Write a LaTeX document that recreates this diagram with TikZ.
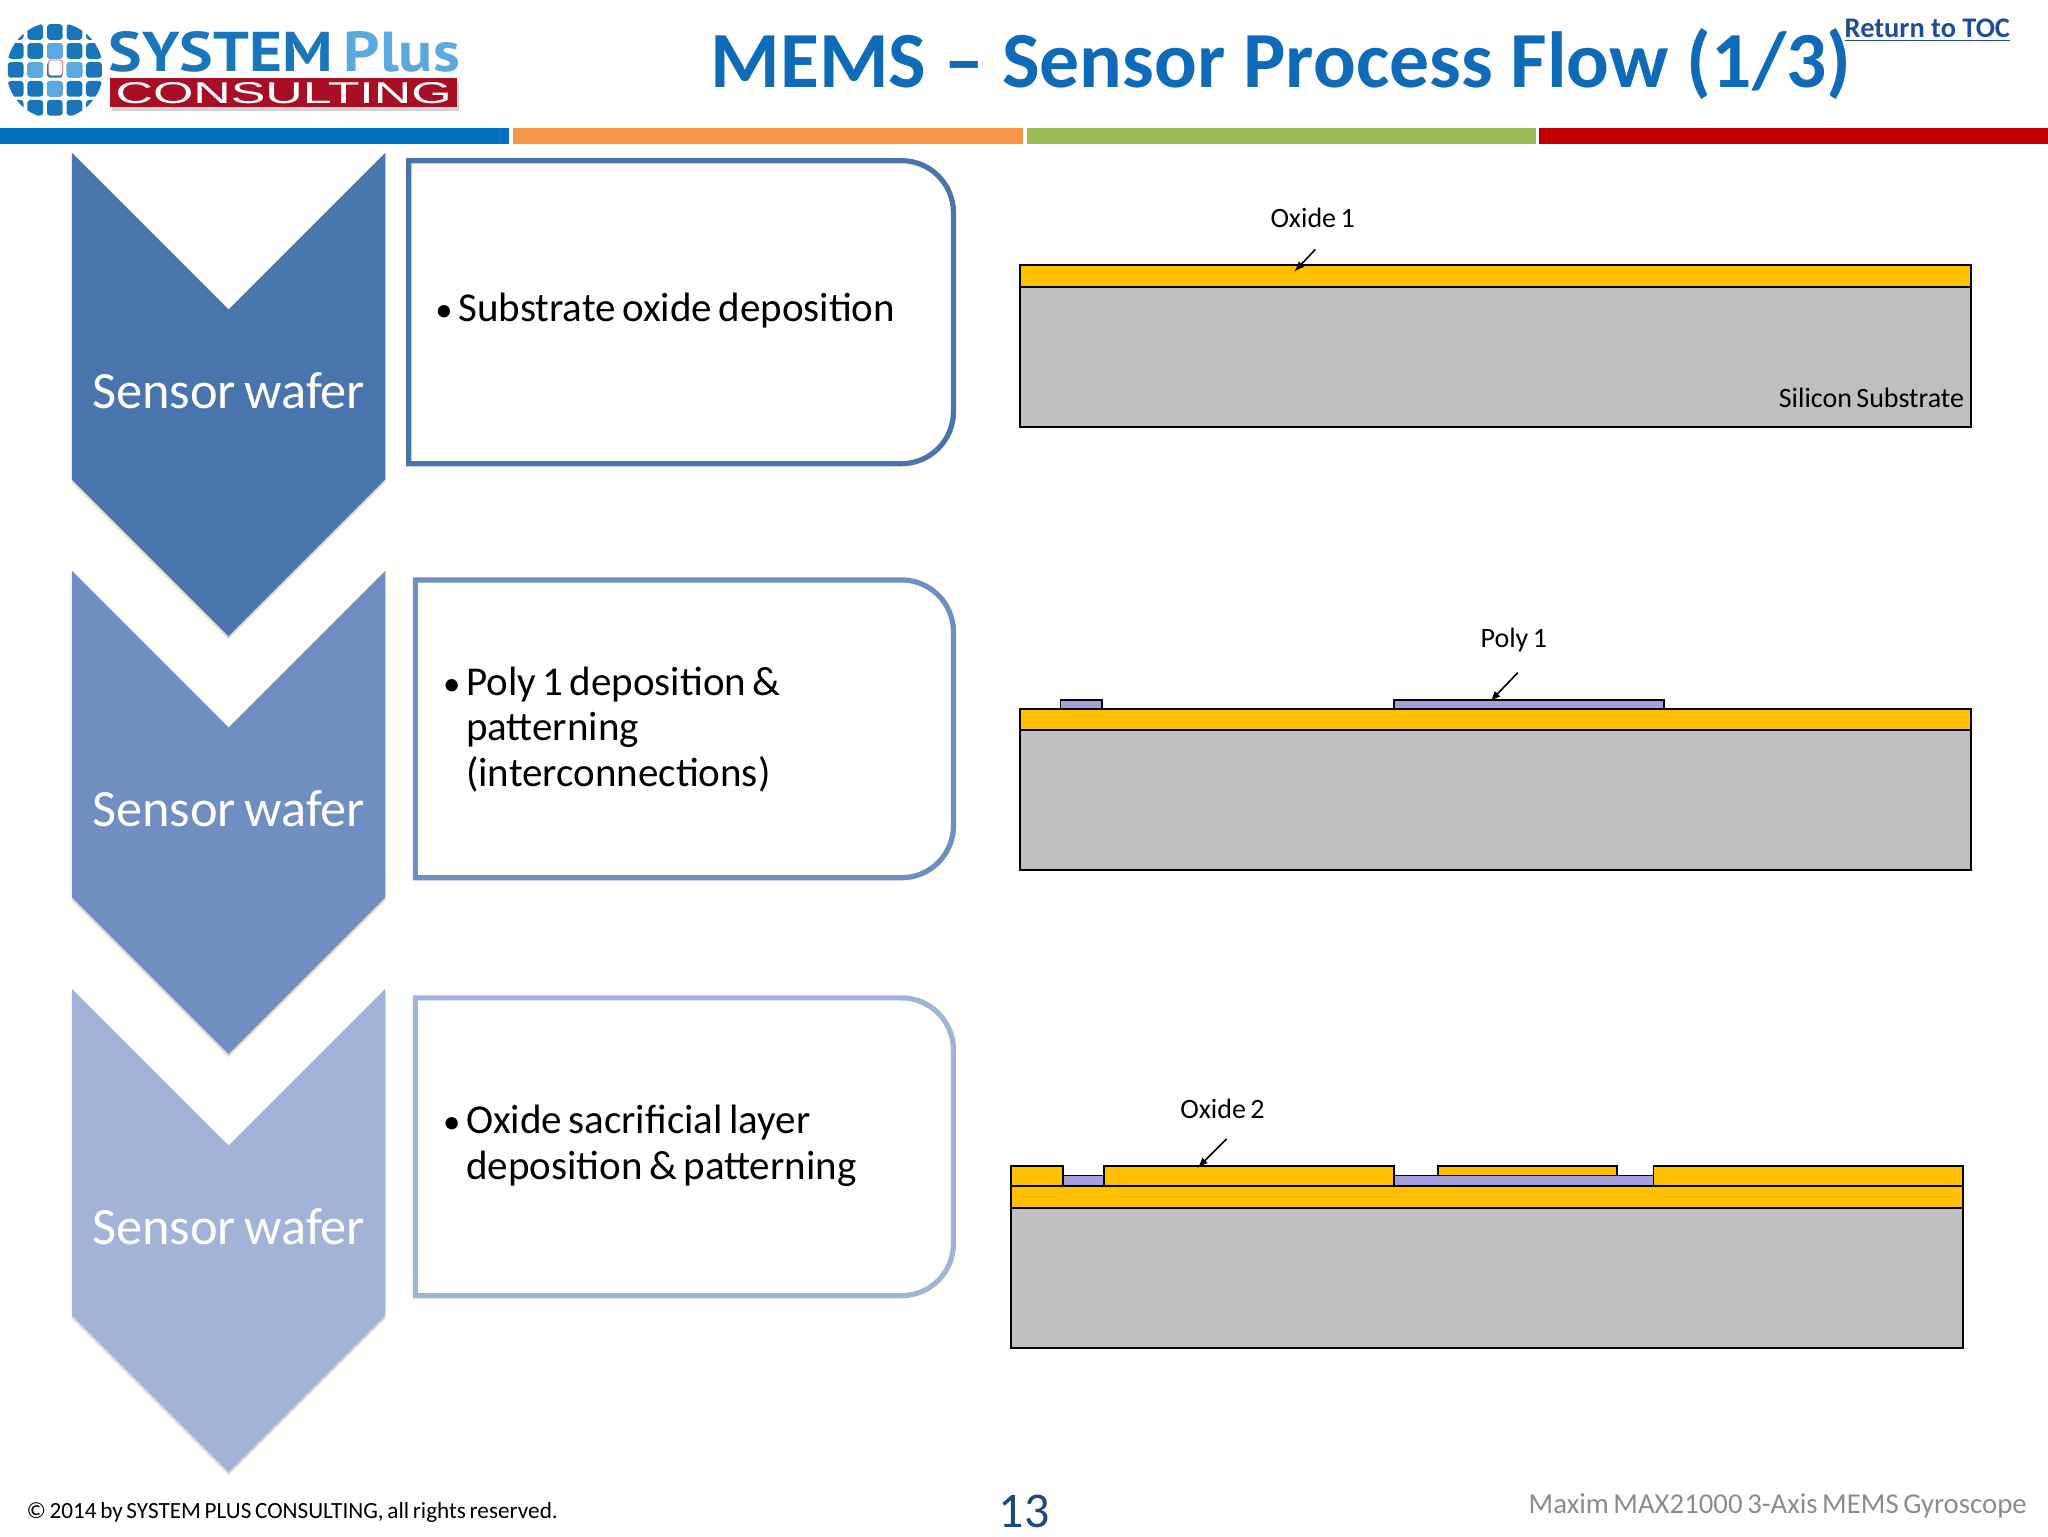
\documentclass[tikz,border=0pt]{standalone}
\usepackage{fontspec}
\setmainfont[WordSpace=0.7]{Carlito}
\newfontfamily\titlefont{Carlito}
\newfontfamily\logosans{PT Sans}
\newfontfamily\logowide{Liberation Sans}
\usetikzlibrary{shadows}
\definecolor{barblue}{HTML}{0070C0}
\definecolor{barorange}{HTML}{F79646}
\definecolor{bargreen}{HTML}{9BBB59}
\definecolor{barred}{HTML}{C00000}
\definecolor{stepA}{HTML}{4A74AC}
\definecolor{stepB}{HTML}{6E8FC0}
\definecolor{stepC}{HTML}{A1B3D7}
\definecolor{oxide}{HTML}{FFC000}
\definecolor{poly}{HTML}{A5A0DC}
\definecolor{silicon}{HTML}{BFBEC0}
\definecolor{titleblue}{HTML}{0F6BB7}
\definecolor{tocblue}{HTML}{1F4E96}
\definecolor{numblue}{HTML}{1F497D}
\definecolor{logodark}{HTML}{1B75BB}
\definecolor{logolight}{HTML}{5BA9DE}
\definecolor{logored}{HTML}{A80F25}
\newcommand{\stepitem}[1]{\hbox to 11.5pt{\scalebox{0.85}{\textbullet}\hss}\parbox[t]{230pt}{\raggedright #1}}
\tikzset{
	stepbox/.style={line width=2.6pt, fill=white},
	chevron/.style={drop shadow={shadow xshift=0pt, shadow yshift=-1.5pt, opacity=0.3}},
	wafer/.style={text=white, font=\fontsize{26.2}{30}\selectfont, inner sep=0pt},
	steptext/.style={anchor=north west, inner sep=0pt, font=\fontsize{20.5}{22.9}\selectfont},
	layerox/.style={draw=black, line width=0.9pt, fill=oxide},
	layerpoly/.style={draw=black, line width=0.9pt, fill=poly},
	layersi/.style={draw=black, line width=0.9pt, fill=silicon},
	small/.style={inner sep=0pt, font=\fontsize{14}{16}\selectfont},
	pointer/.style={-latex, line width=0.8pt}
}
\begin{document}
\begin{tikzpicture}[x=0.653061pt, y=-0.653061pt]
			\useasboundingbox (0,0) rectangle (1568,1176);
			
			\begin{scope}
				\clip (42,54) circle[radius=37];
				\foreach \i in {-2,...,2}
				\foreach \j in {-2,...,2}
				\fill[logodark, rounded corners=1.5pt] (36+15*\i,47.5+14.5*\j) rectangle ++(12,12);
				\foreach \i/\j in {0/-1,0/1,-1/0,1/0}
				\fill[logolight, rounded corners=1.5pt] (36+15*\i,47.5+14.5*\j) rectangle ++(12,12);
			\end{scope}
			\draw[fill=white, draw=logored!60, rounded corners=1.5pt] (37,46) rectangle (48,58);
			\node[inner sep=0pt, anchor=west, text=logodark, font=\logosans\bfseries] (logotop) at (83,40) {\resizebox{112pt}{20pt}{SYSTEM}};
			\node[inner sep=0pt, anchor=west, text=logolight, font=\logosans\bfseries] (logoplus) at (263,40) {\resizebox{58pt}{20pt}{Plus}};
			\node[fill=logored, minimum width=173.5pt, minimum height=14.4pt, inner sep=0pt, anchor=west, drop shadow={shadow xshift=1pt, shadow yshift=-2pt, opacity=0.35}] (logobox) at (84,71) {};
			\node[text=white, inner sep=0pt, font=\logowide] (logobottom) at (logobox.center) {\resizebox{168pt}{10.5pt}{CONSULTING}};
			
			\node[inner sep=0pt, anchor=base west, text=titleblue, font=\titlefont\fontsize{39.8}{48}\selectfont\bfseries] (title) at (544,67) {MEMS – Sensor Process Flow (1/3)};
			\node[inner sep=0pt, anchor=base west, text=tocblue, font=\titlefont\fontsize{14.2}{16}\selectfont\bfseries] (toc) at (1412,29) {\underline{Return to TOC}};
			
			\foreach \xa/\xb/\col in {0/390/barblue,393/783/barorange,786/1176/bargreen,1178/1568/barred}
			\fill[\col] (\xa,98) rectangle (\xb,110);
			
			\foreach \dy/\col in {0/stepA,320/stepB,640/stepC} {
				\fill[\col, chevron] (55,117+\dy) -- (175,237+\dy) -- (295,117+\dy) -- (295,367+\dy) -- (175,487+\dy) -- (55,367+\dy) -- cycle;
				\node[wafer] (wafer\dy) at (175,299+\dy) {Sensor wafer};
			}
			
			\draw[stepbox, draw=stepA] (313,123) [rounded corners=26pt] -- (730,123) -- (730,355) [sharp corners] -- (313,355) -- cycle;
			\draw[stepbox, draw=stepB] (318,444) [rounded corners=26pt] -- (730,444) -- (730,672) [sharp corners] -- (318,672) -- cycle;
			\draw[stepbox, draw=stepC] (318,764) [rounded corners=26pt] -- (730,764) -- (730,992) [sharp corners] -- (318,992) -- cycle;
			
			\node[steptext] (text1) at (333,224) {\stepitem{Substrate oxide deposition}};
			\node[steptext] (text2) at (339,510) {\stepitem{Poly 1 deposition \&\\patterning\\(interconnections)}};
			\node[steptext] (text3) at (339,846) {\stepitem{Oxide sacrificial layer\\deposition \& patterning}};
			
			\draw[layersi] (781,220) rectangle (1509,327);
			\draw[layerox] (781,203) rectangle (1509,220);
			
			\draw[layersi] (781,559) rectangle (1509,666);
			\draw[layerox] (781,543) rectangle (1509,559);
			\foreach \xa/\xb in {812/844,1067/1274}
			\draw[layerpoly] (\xa,536) rectangle (\xb,543);
			
			\draw[layersi] (774,925) rectangle (1503,1032);
			\draw[layerox] (774,908) rectangle (1503,925);
			\foreach \xa/\xb in {814/845,1067/1266}
			\draw[layerpoly] (\xa,900) rectangle (\xb,908);
			\foreach \xa/\xb in {774/814,845/1067,1266/1503}
			\draw[layerox] (\xa,893) rectangle (\xb,908);
			\draw[layerox] (1101,893) rectangle (1238,900);
			
			\node[small] (ox1) at (1005,167) {Oxide 1};
			\node[small] (po1) at (1159,490) {Poly 1};
			\node[small] (ox2) at (936,849) {Oxide 2};
			\node[small, anchor=east] (sisub) at (1504,305) {Silicon Substrate};
			
			\coordinate (ox1s) at (1007,191);
			\coordinate (ox1t) at (991,208);
			\coordinate (po1s) at (1162,515);
			\coordinate (po1t) at (1141,537);
			\coordinate (ox2s) at (939,872);
			\coordinate (ox2t) at (917,894);
			
			\foreach \from/\to in {ox1s/ox1t,po1s/po1t,ox2s/ox2t}
			\draw[pointer] (\from) -- (\to);
			
			\node[inner sep=0pt, anchor=west, font=\fontsize{11.6}{14}\selectfont] (copyright) at (20,1158) {© 2014 by SYSTEM PLUS CONSULTING, all rights reserved.};
			\node[inner sep=0pt, text=numblue, font=\fontsize{25}{30}\selectfont] (page) at (784,1157) {13};
			\node[inner sep=0pt, anchor=east, text=black!45, font=\fontsize{14.4}{16}\selectfont] (device) at (1552,1153) {Maxim MAX21000 3-Axis MEMS Gyroscope};
		\end{tikzpicture}
\end{document}
